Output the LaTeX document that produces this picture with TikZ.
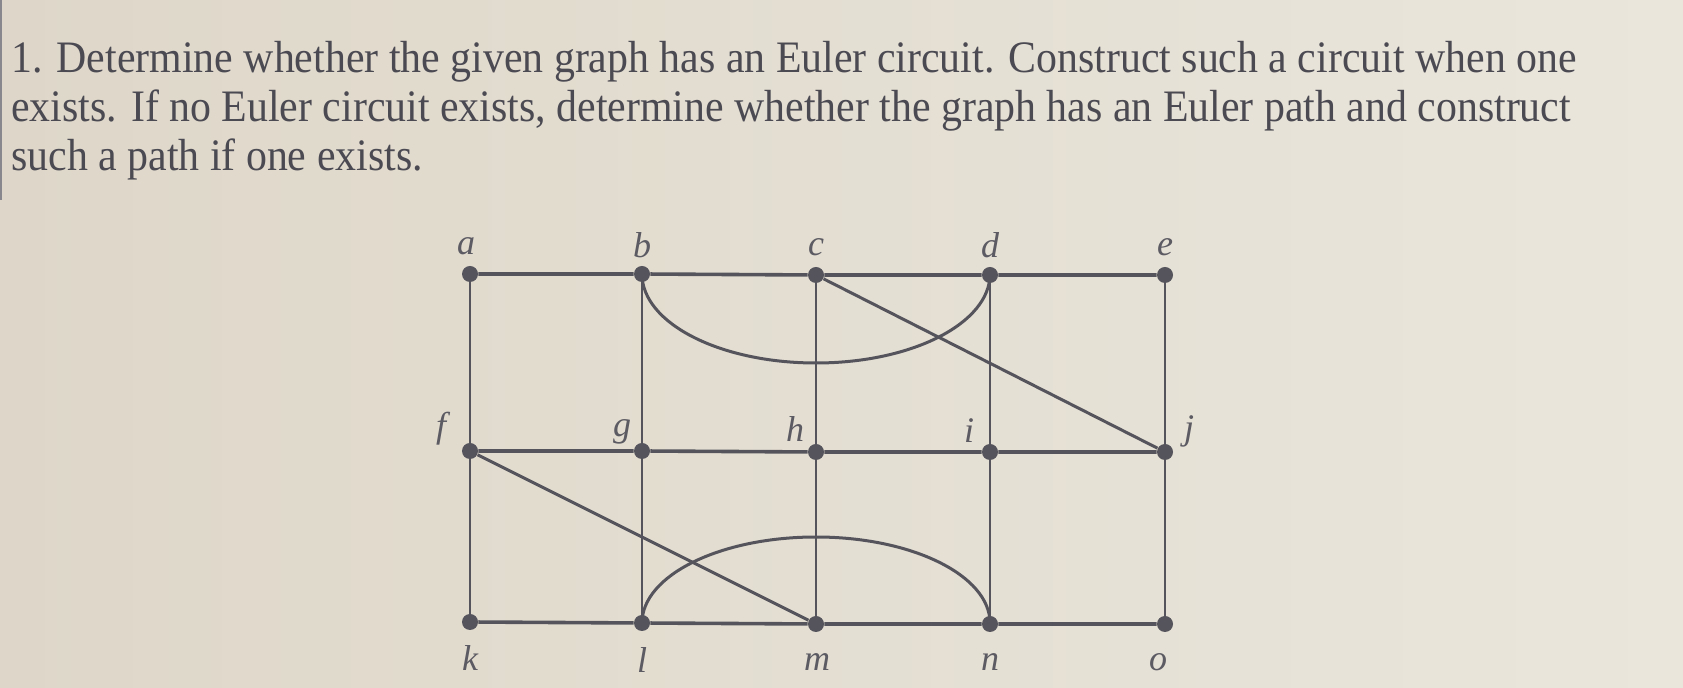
\documentclass[tikz,border=0pt]{standalone}
\usepackage{fontspec}
\setmainfont{Liberation Serif}
\definecolor{bgL}{RGB}{222,215,201}
\definecolor{bgR}{RGB}{234,230,220}
\definecolor{ink}{RGB}{75,73,82}
\definecolor{edgecol}{RGB}{85,84,92}
\definecolor{labcol}{RGB}{92,90,98}
\tikzset{
  txt/.style={anchor=base west, inner sep=0pt, text=ink, font=\fontsize{22.5}{26}\selectfont, xscale=0.93},
  dot/.style={circle, fill=edgecol, inner sep=0pt, minimum size=8pt},
  lab/.style={inner sep=0pt, text=labcol, font=\fontsize{18}{20}\selectfont\itshape},
  hedge/.style={draw=edgecol, line width=1.8pt},
  vedge/.style={draw=edgecol, line width=1.4pt},
  dedge/.style={draw=edgecol, line width=1.5pt},
}
\begin{document}
\begin{tikzpicture}[x=0.5pt,y=-0.5pt]
\shade[left color=bgL, right color=bgR] (0,0) rectangle (1683,688);
\useasboundingbox (0,0) rectangle (1683,688);
\draw[edgecol!70, line width=1pt] (1,0) -- (1,200);
% text
\node[txt] (t1) at (11,73) {1. Determine whether the given graph has an Euler circuit. Construct such a circuit when one};
\node[txt] (t2) at (11,122) {exists. If no Euler circuit exists, determine whether the graph has an Euler path and construct};
\node[txt] (t3) at (11,171) {such a path if one exists.};
% vertices
\node[dot] (a) at (470,274) {};
\node[dot] (b) at (642,274) {};
\node[dot] (c) at (816,275) {};
\node[dot] (d) at (990,275) {};
\node[dot] (e) at (1165,275) {};
\node[dot] (f) at (470,451) {};
\node[dot] (g) at (642,451) {};
\node[dot] (h) at (816,452) {};
\node[dot] (i) at (990,452) {};
\node[dot] (j) at (1165,452) {};
\node[dot] (k) at (470,622) {};
\node[dot] (l) at (642,623) {};
\node[dot] (m) at (816,624) {};
\node[dot] (n) at (990,624) {};
\node[dot] (o) at (1165,624) {};
% labels
\node[lab] (la) at (466,246) {a};
\node[lab] (lb) at (642,245) {b};
\node[lab] (lc) at (816,247) {c};
\node[lab] (ld) at (990,245) {d};
\node[lab] (le) at (1165,247) {e};
\node[lab] (lf) at (441,429) {f};
\node[lab] (lg) at (622,432) {g};
\node[lab] (lh) at (795,429) {h};
\node[lab] (li) at (969,431) {i};
\node[lab] (lj) at (1189,431) {j};
\node[lab] (lk) at (470,658) {k};
\node[lab] (ll) at (642,660) {l};
\node[lab] (lm) at (817,662) {m};
\node[lab] (ln) at (990,662) {n};
\node[lab] (lo) at (1158,662) {o};
% horizontal edges
\draw[hedge] (a) -- (b) -- (c) -- (d) -- (e);
\draw[hedge] (f) -- (g) -- (h) -- (i) -- (j);
\draw[hedge] (k) -- (l) -- (m) -- (n) -- (o);
% vertical edges
\draw[vedge] (a) -- (f) -- (k);
\draw[vedge] (b) -- (g) -- (l);
\draw[vedge] (c) -- (h) -- (m);
\draw[vedge] (d) -- (i) -- (n);
\draw[vedge] (e) -- (j) -- (o);
% diagonals
\draw[dedge] (c) -- (j);
\draw[dedge] (f) -- (m);
% arcs
\draw[dedge] (b.center) arc[start angle=180, end angle=360, x radius=87pt, y radius=44.5pt];
\draw[dedge] (l.center) arc[start angle=180, end angle=0, x radius=87pt, y radius=43pt];
\end{tikzpicture}
\end{document}
